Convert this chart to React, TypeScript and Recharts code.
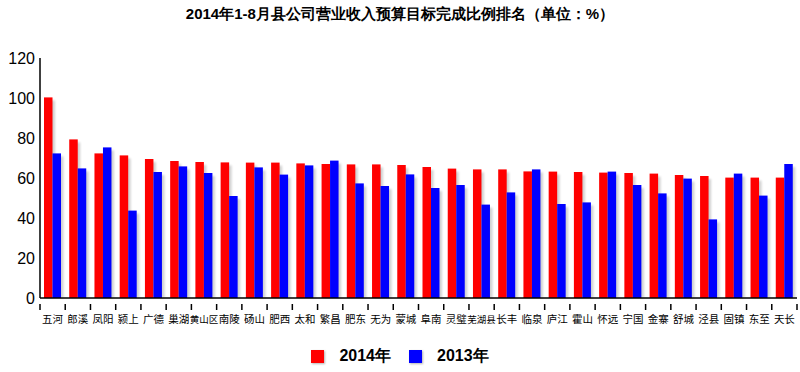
import { BarChart, Bar, XAxis, YAxis } from 'recharts';

const counties = ['五河', '郎溪', '凤阳', '颍上', '广德', '巢湖', '黄山区', '南陵', '砀山', '肥西',
    '太和', '繁昌', '肥东', '无为', '蒙城', '阜南', '灵璧', '芜湖县', '长丰', '临泉',
    '庐江', '霍山', '怀远', '宁国', '金寨', '舒城', '泾县', '固镇', '东至', '天长'];
const y2014 = [100.3, 79.3, 72.3, 71.3, 69.5, 68.5, 68.0, 67.8, 67.7, 67.7,
    67.3, 67.0, 66.8, 66.8, 66.5, 65.5, 64.7, 64.3, 64.3, 63.3,
    63.2, 63.0, 62.7, 62.5, 62.2, 61.5, 61.0, 60.2, 60.2, 60.2];
const y2013 = [72.3, 64.8, 75.3, 43.7, 63.0, 65.8, 62.5, 51.0, 65.3, 61.7,
    66.3, 68.7, 57.3, 56.0, 61.8, 55.0, 56.5, 46.7, 52.8, 64.3,
    47.0, 47.8, 63.2, 56.5, 52.3, 59.7, 39.3, 62.2, 51.2, 67.0];
const yTicks = [0, 20, 40, 60, 80, 100, 120];

const data = counties.map((name, i) => ({ name, a: y2014[i], b: y2013[i] }));

const W = 800, H = 372;
const LEFT = 40, RIGHT = 3;
const band = (W - LEFT - RIGHT) / counties.length;

const ShadowBar = (props: any) => {
    const { x, y, width, height, fill } = props;
    if (!height || height <= 0) return null;
    return (
        <g>
            <rect x={x + 2.5} y={y + 3} width={width} height={height - 3} fill="#000" opacity={0.18} style={{ filter: 'blur(1px)' }} />
            <rect x={x} y={y} width={width} height={height} fill={fill} />
        </g>
    );
};

const CatTick = (props: any) => {
    const { x, y, payload, index } = props;
    const last = index === counties.length - 1;
    const long = String(payload.value).length > 2;
    return (
        <g>
            <line x1={x - band / 2} x2={x - band / 2} y1={y - 2} y2={y + 4} stroke="#000" strokeWidth={1.5} />
            {last && <line x1={x + band / 2} x2={x + band / 2} y1={y - 2} y2={y + 4} stroke="#000" strokeWidth={1.5} />}
            <text x={x} y={y + 17} textAnchor="middle" fontSize={long ? 9.5 : 10.5} fill="#000"
                fontFamily="'Noto Sans CJK SC', sans-serif">{payload.value}</text>
        </g>
    );
};

export default function App() {
    return (
        <div style={{ position: 'absolute', left: 0, top: 0, width: W, height: H, background: '#fff', fontFamily: "'Liberation Sans', Arial, sans-serif" }}>
            <div style={{ position: 'absolute', top: 5, left: 0, width: W, textAlign: 'center', fontSize: 15, fontWeight: 'bold', color: '#000' }}>
                2014年1-8月县公司营业收入预算目标完成比例排名（单位：%）
            </div>
            <BarChart width={W} height={H} data={data} margin={{ top: 58, right: RIGHT, bottom: 50, left: 0 }}
                barGap={0} barCategoryGap={4}>
                <XAxis dataKey="name" interval={0} height={24} tickLine={false} axisLine={{ stroke: '#000', strokeWidth: 1.5 }}
                    tick={<CatTick />} />
                <YAxis width={LEFT} domain={[0, 120]} ticks={yTicks} tickLine={false} tickSize={0} tickMargin={5}
                    axisLine={{ stroke: '#000', strokeWidth: 1.5 }}
                    tick={{ fill: '#000', fontSize: 16, fontFamily: "'Liberation Sans', Arial, sans-serif" }} />
                <Bar dataKey="a" fill="#ff0000" barSize={8.5} shape={<ShadowBar />} isAnimationActive={false} />
                <Bar dataKey="b" fill="#0000ff" barSize={8.5} shape={<ShadowBar />} isAnimationActive={false} />
            </BarChart>
            <div style={{ position: 'absolute', top: 346, left: 0, width: W, display: 'flex', justifyContent: 'center', alignItems: 'center', fontSize: 16, fontWeight: 'bold', color: '#000' }}>
                <span style={{ width: 13, height: 13, background: '#ff0000', boxShadow: '1px 1px 2px rgba(0,0,0,0.3)', marginRight: 15 }} />
                <span style={{ marginRight: 18 }}>2014年</span>
                <span style={{ width: 13, height: 13, background: '#0000ff', boxShadow: '1px 1px 2px rgba(0,0,0,0.3)', marginRight: 15 }} />
                <span>2013年</span>
            </div>
        </div>
    );
}
